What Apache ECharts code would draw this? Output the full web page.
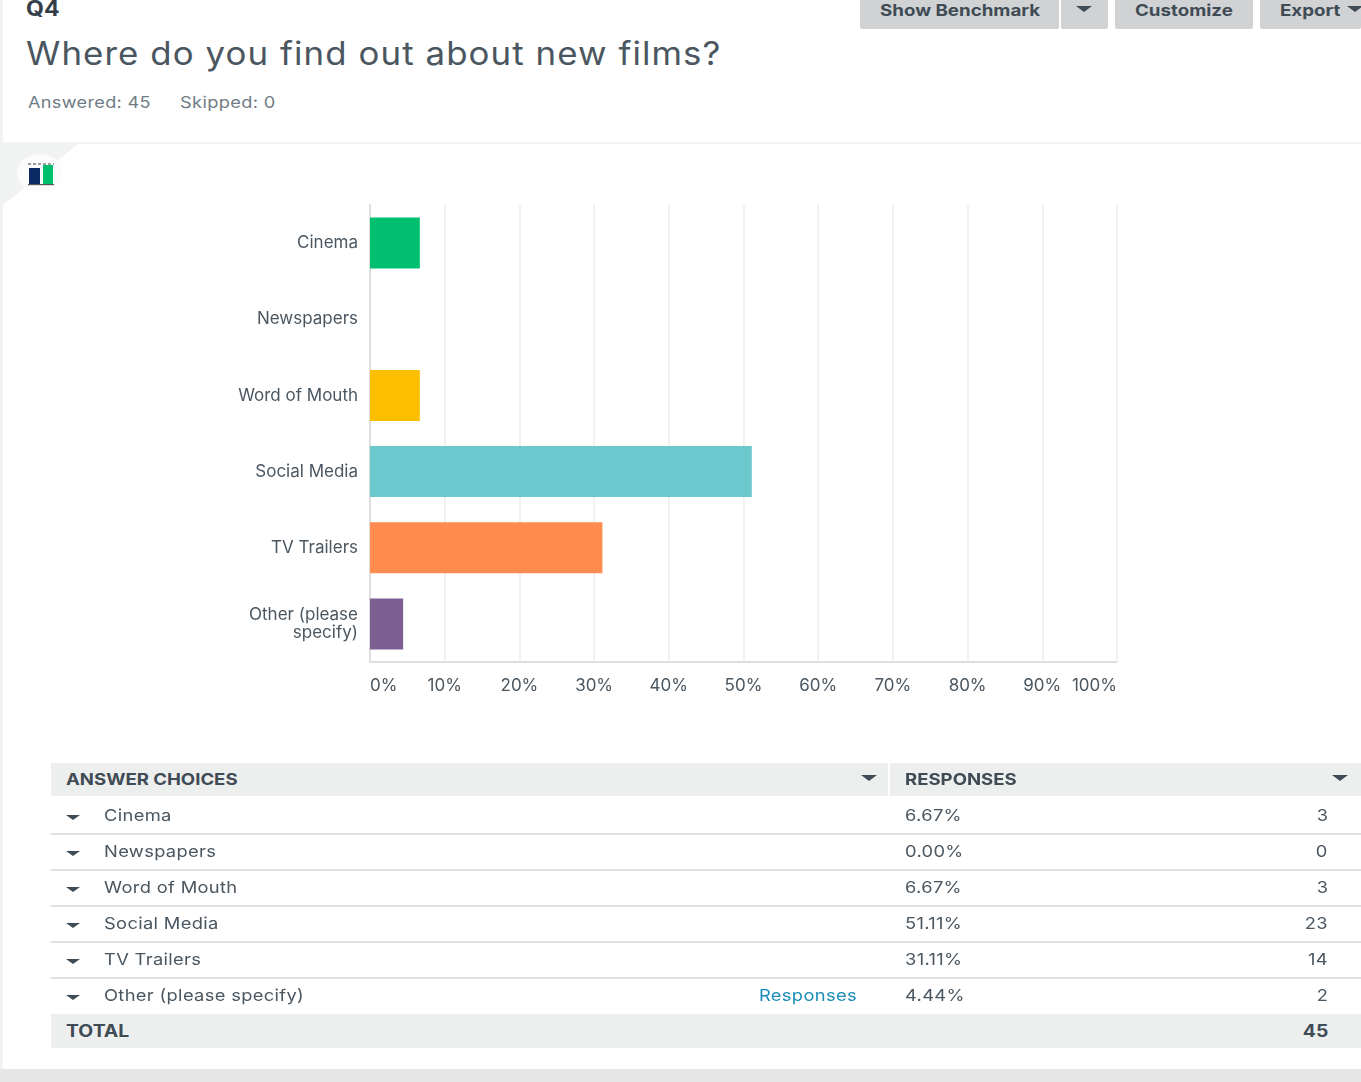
<!DOCTYPE html>
<html><head><meta charset="utf-8">
<script src="https://cdn.jsdelivr.net/npm/echarts@6/dist/echarts.min.js"></script>
<style>
html,body{margin:0;padding:0;background:#fff;overflow:hidden}
#page{position:relative;width:1361px;height:1082px;overflow:hidden;font-family:"Inter",sans-serif;color:#4a5660}
#chart{position:absolute;left:0;top:0;width:1361px;height:1082px}
.t{position:absolute;white-space:nowrap;line-height:1;transform-origin:left top}
.r{transform-origin:right top}
.box{position:absolute}
.caret{position:absolute;width:0;height:0;border-left:8px solid transparent;border-right:8px solid transparent;border-top:6px solid #3f4b55}
</style></head><body>
<div id="page">
<div class="box" style="left:0;top:0;width:3px;height:1082px;background:#f1f2f2"></div>
<div class="box" style="left:0;top:1069px;width:1361px;height:13px;background:#e6e6e6"></div>
<div class="box" style="left:3px;top:142px;width:1358px;height:2px;background:#f2f3f3"></div>
<svg class="box" style="left:0;top:0" width="120" height="230">
<polygon points="3,144 78,144 3,205" fill="#f1f2f2"/>
<ellipse cx="40" cy="173" rx="23" ry="19" fill="#fbfbfb"/>
<rect x="29" y="168" width="11" height="16" fill="#0b2a63"/>
<rect x="43" y="165" width="10" height="19" fill="#00bf6f"/>
<rect x="28" y="184" width="26" height="1.2" fill="#555"/>
<line x1="28" y1="164" x2="54" y2="164" stroke="#444" stroke-width="1.2" stroke-dasharray="3 2"/>
</svg>
<div class="t" style="left:26px;top:-2px;font-size:21px;font-weight:bold;color:#333e48;transform:scaleX(1.1)">Q4</div>
<div class="t" style="left:26px;top:38px;font-size:32px;color:#4a5660;letter-spacing:1px;transform:scaleX(1.088)" id="title">Where do you find out about new films?</div>
<div class="t" style="left:28px;top:94px;font-size:16px;color:#6f7c85;letter-spacing:.3px;transform:scaleX(1.13)">Answered: 45</div>
<div class="t" style="left:180px;top:94px;font-size:16px;color:#6f7c85;letter-spacing:.3px;transform:scaleX(1.14)">Skipped: 0</div>
<div id="btns"></div>
<div id="chart"></div>
<div id="table"></div>
</div>
<script>
var categories=['Cinema','Newspapers','Word of Mouth','Social Media','TV Trailers','Other (please\nspecify)'];
var percents=[6.67,0,6.67,51.11,31.11,4.44];
var barColors=['#00bf6f','#a6a6a6','#fbbf00','#6bc8cd','#ff8b4f','#7d5e90'];
var axisTicks=[0,10,20,30,40,50,60,70,80,90,100];
var tableLabels=['Cinema','Newspapers','Word of Mouth','Social Media','TV Trailers','Other (please specify)'];
var tablePercents=['6.67%','0.00%','6.67%','51.11%','31.11%','4.44%'];
var tableCounts=[3,0,3,23,14,2];
var totalCount=45;

var chart=echarts.init(document.getElementById('chart'),null,{renderer:'canvas'});
var font='Inter,sans-serif';
chart.setOption({
  animation:false,
  grid:{left:370,top:205,width:747,height:457,containLabel:false},
  xAxis:{type:'value',min:axisTicks[0],max:axisTicks[axisTicks.length-1],interval:10,
    axisLine:{show:false},axisTick:{show:false},
    splitLine:{show:true,lineStyle:{color:'#f1f1f1',width:2}},
    axisLabel:{formatter:'{value}%',color:'#4a5660',fontSize:17,fontFamily:font,margin:15,alignMinLabel:'left',alignMaxLabel:'right'}},
  yAxis:{type:'category',inverse:true,data:categories,
    axisLine:{show:true,lineStyle:{color:'#dcdedf',width:2}},axisTick:{show:false},
    axisLabel:{color:'#4a5660',fontSize:17,lineHeight:18,fontFamily:font,margin:12,align:'right'}},
  series:[{type:'bar',data:percents,colorBy:'data',barWidth:51,silent:true}],
  color:barColors
});
chart.setOption({graphic:[{type:'line',silent:true,shape:{x1:369,y1:662,x2:1117,y2:662},style:{stroke:'#dcdedf',lineWidth:2}}]});

function el(cls,css,txt,parent){var d=document.createElement('div');d.className=cls;d.style.cssText=css;if(txt!==undefined)d.textContent=txt;(parent||document.getElementById('table')).appendChild(d);return d;}
var btns=document.getElementById('btns');
[[860,199],[1061,47],[1115,138],[1260,101]].forEach(function(b){el('box','left:'+b[0]+'px;top:0;width:'+b[1]+'px;height:29px;background:#d0d2d3;border-radius:0 0 2px 2px','',btns);});
var btnStyle='top:2px;font-size:16px;font-weight:bold;color:#3f4b55;transform:scaleX(1.17);';
el('t','left:880px;'+btnStyle,'Show Benchmark',btns);
el('t','left:1135px;'+btnStyle,'Customize',btns);
el('t','left:1280px;'+btnStyle,'Export',btns);
el('caret','left:1076px;top:6px',undefined,btns);
el('caret','left:1347px;top:6px',undefined,btns);

var headStyle='top:771px;font-size:16px;font-weight:bold;color:#3f4b55;transform:scaleX(1.16);';
el('box','left:51px;top:763px;width:837px;height:33px;background:#edeeee');
el('box','left:890px;top:763px;width:471px;height:33px;background:#edeeee');
el('t','left:66px;'+headStyle,'ANSWER CHOICES');
el('t','left:905px;'+headStyle,'RESPONSES');
el('caret','left:861px;top:775px');
el('caret','left:1332px;top:775px');
var rowTops=[798,834,870,906,942,978];
var cell='font-size:16.5px;letter-spacing:.3px;transform:scaleX(1.11);';
tableLabels.forEach(function(l,i){
  var y=rowTops[i];
  if(i<5) el('box','left:51px;top:'+(y+35)+'px;width:1310px;height:2px;background:#dfe1e2');
  el('caret','left:66px;top:'+(y+17)+'px;border-left-width:7px;border-right-width:7px;border-top-width:5px');
  el('t','left:104px;top:'+(y+9)+'px;'+cell,l);
  el('t','left:905px;top:'+(y+9)+'px;'+cell,tablePercents[i]);
  el('t r','right:33px;top:'+(y+9)+'px;'+cell,String(tableCounts[i]));
});
el('t','left:759px;top:987px;color:#1b8cb8;'+cell,'Responses');
el('box','left:51px;top:1014px;width:1310px;height:34px;background:#edeeee');
var totalStyle='top:1023px;font-size:17px;font-weight:bold;color:#3f4b55;transform:scaleX(1.14);';
el('t','left:66px;'+totalStyle,'TOTAL');
el('t r','right:33px;'+totalStyle,String(totalCount));
</script>
</body></html>
